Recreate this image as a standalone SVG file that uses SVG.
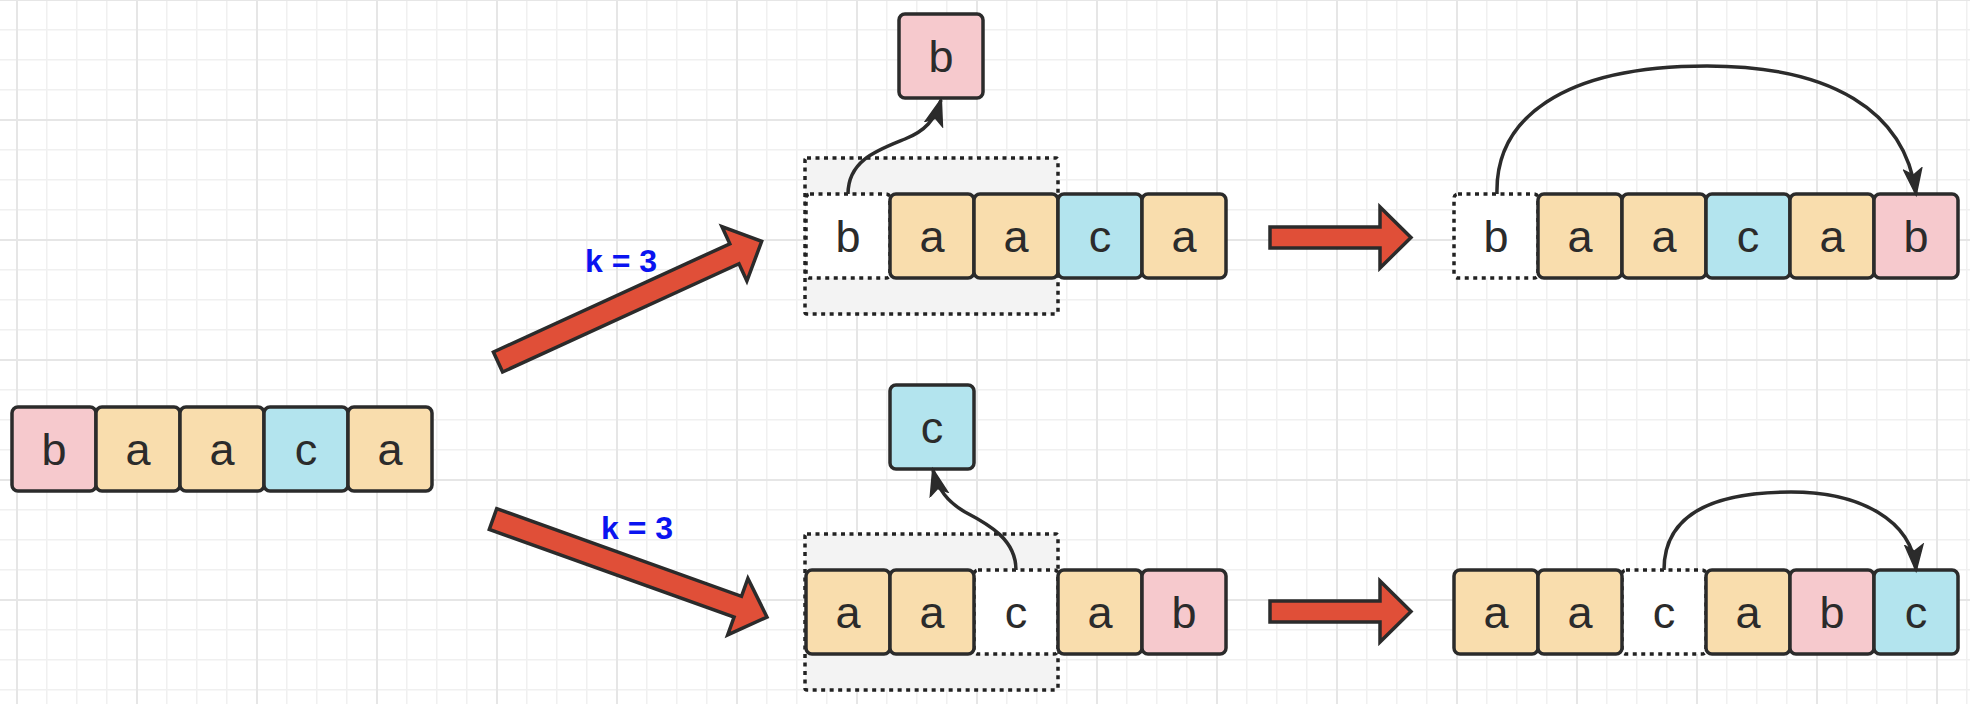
<svg xmlns="http://www.w3.org/2000/svg" width="1970" height="704" viewBox="0 0 1970 704">
<defs>
<pattern id="gmin" width="30" height="30" patternUnits="userSpaceOnUse" x="16" y="-1"><rect x="0" y="0" width="30" height="1.5" fill="#f0f0f0"/><rect x="0" y="0" width="1.5" height="30" fill="#f0f0f0"/></pattern>
<pattern id="gmaj" width="120" height="120" patternUnits="userSpaceOnUse" x="16" y="-1"><rect x="0" y="0" width="120" height="2" fill="#e6e6e6"/><rect x="0" y="0" width="2" height="120" fill="#e6e6e6"/></pattern>
<marker id="ah" markerUnits="userSpaceOnUse" markerWidth="30" markerHeight="22" viewBox="0 0 30 22" refX="26" refY="11" orient="auto"><path d="M1,2 L27,11 L1,20 L7,11 Z" fill="#2b2b2b" stroke="#2b2b2b" stroke-width="1.5" stroke-linejoin="miter"/></marker>
</defs>
<style>
.box{stroke:#2b2b2b;stroke-width:3.5}
.pk{fill:#F6C9CD}.pe{fill:#F9DDAD}.bl{fill:#B3E4EE}.wh{fill:#ffffff}
.dot{stroke:#222222;stroke-width:3.5;stroke-dasharray:4 4.5}
.cont{fill:#F3F3F3;stroke:#222222;stroke-width:3.5;stroke-dasharray:4 4.5}
.t{font-family:"Liberation Sans",Arial,sans-serif;font-size:45px;fill:#2b2b2b;text-anchor:middle}
.k{font-family:"Liberation Sans",Arial,sans-serif;font-size:32px;font-weight:bold;fill:#0a14f0;text-anchor:middle}
.blk{fill:#E04F38;stroke:#2b2b2b;stroke-width:3.5;stroke-linejoin:miter}
.cur{fill:none;stroke:#2b2b2b;stroke-width:3.5;marker-end:url(#ah)}
</style>
<rect width="1970" height="704" fill="#ffffff"/>
<rect width="1970" height="704" fill="url(#gmin)"/>
<rect width="1970" height="704" fill="url(#gmaj)"/>

<!-- containers -->
<g id="window-top"><rect class="cont" x="805" y="158" width="253" height="156" rx="2"/></g>
<g id="window-bottom"><rect class="cont" x="805" y="534" width="253" height="156" rx="2"/></g>

<!-- left row -->
<g id="left-row">
<rect class="box pk" x="12" y="407" width="84" height="84" rx="6"/><text class="t" x="54" y="465">b</text>
<rect class="box pe" x="96" y="407" width="84" height="84" rx="6"/><text class="t" x="138" y="465">a</text>
<rect class="box pe" x="180" y="407" width="84" height="84" rx="6"/><text class="t" x="222" y="465">a</text>
<rect class="box bl" x="264" y="407" width="84" height="84" rx="6"/><text class="t" x="306" y="465">c</text>
<rect class="box pe" x="348" y="407" width="84" height="84" rx="6"/><text class="t" x="390" y="465">a</text>
</g>

<!-- top middle -->
<g id="top-out"><rect class="box pk" x="899" y="14" width="84" height="84" rx="6"/><text class="t" x="941" y="72">b</text></g>
<g id="top-mid-row">
<rect class="dot wh" x="806" y="194" width="84" height="84" rx="4"/><text class="t" x="848" y="252">b</text>
<rect class="box pe" x="890" y="194" width="84" height="84" rx="6"/><text class="t" x="932" y="252">a</text>
<rect class="box pe" x="974" y="194" width="84" height="84" rx="6"/><text class="t" x="1016" y="252">a</text>
<rect class="box bl" x="1058" y="194" width="84" height="84" rx="6"/><text class="t" x="1100" y="252">c</text>
<rect class="box pe" x="1142" y="194" width="84" height="84" rx="6"/><text class="t" x="1184" y="252">a</text>
</g>

<!-- top right -->
<g id="top-right-row">
<rect class="dot wh" x="1454" y="194" width="84" height="84" rx="4"/><text class="t" x="1496" y="252">b</text>
<rect class="box pe" x="1538" y="194" width="84" height="84" rx="6"/><text class="t" x="1580" y="252">a</text>
<rect class="box pe" x="1622" y="194" width="84" height="84" rx="6"/><text class="t" x="1664" y="252">a</text>
<rect class="box bl" x="1706" y="194" width="84" height="84" rx="6"/><text class="t" x="1748" y="252">c</text>
<rect class="box pe" x="1790" y="194" width="84" height="84" rx="6"/><text class="t" x="1832" y="252">a</text>
<rect class="box pk" x="1874" y="194" width="84" height="84" rx="6"/><text class="t" x="1916" y="252">b</text>
</g>

<!-- bottom middle -->
<g id="bottom-out"><rect class="box bl" x="890" y="385" width="84" height="84" rx="6"/><text class="t" x="932" y="443">c</text></g>
<g id="bottom-mid-row">
<rect class="dot wh" x="974" y="570" width="84" height="84" rx="4"/><text class="t" x="1016" y="628">c</text>
<rect class="box pe" x="806" y="570" width="84" height="84" rx="6"/><text class="t" x="848" y="628">a</text>
<rect class="box pe" x="890" y="570" width="84" height="84" rx="6"/><text class="t" x="932" y="628">a</text>
<rect class="box pe" x="1058" y="570" width="84" height="84" rx="6"/><text class="t" x="1100" y="628">a</text>
<rect class="box pk" x="1142" y="570" width="84" height="84" rx="6"/><text class="t" x="1184" y="628">b</text>
</g>

<!-- bottom right -->
<g id="bottom-right-row">
<rect class="dot wh" x="1622" y="570" width="84" height="84" rx="4"/><text class="t" x="1664" y="628">c</text>
<rect class="box pe" x="1454" y="570" width="84" height="84" rx="6"/><text class="t" x="1496" y="628">a</text>
<rect class="box pe" x="1538" y="570" width="84" height="84" rx="6"/><text class="t" x="1580" y="628">a</text>
<rect class="box pe" x="1706" y="570" width="84" height="84" rx="6"/><text class="t" x="1748" y="628">a</text>
<rect class="box pk" x="1790" y="570" width="84" height="84" rx="6"/><text class="t" x="1832" y="628">b</text>
<rect class="box bl" x="1874" y="570" width="84" height="84" rx="6"/><text class="t" x="1916" y="628">c</text>
</g>

<!-- connectors -->
<g id="connectors">
<polygon class="blk" transform="translate(498,362) rotate(-24.6)" points="0,-11 260,-11 260,-30 290,0 260,30 260,11 0,11"/>
<polygon class="blk" transform="translate(493,519) rotate(19.7)" points="0,-11 260,-11 260,-30 291,0 260,30 260,11 0,11"/>
<polygon class="blk" points="1270,227 1380,227 1380,207 1411,237.5 1380,268 1380,248 1270,248"/>
<polygon class="blk" points="1270,601 1380,601 1380,581 1411,611.5 1380,642 1380,622 1270,622"/>
<path class="cur" d="M848,194 C848,160 878,150 905,139 C925,131 935,120 941,100"/>
<path class="cur" d="M1016,570 C1016,540 990,525 965,512 C948,502 938,490 933,470"/>
<path class="cur" d="M1497,194 C1495,120 1560,66 1707,66 C1830,66 1905,110 1916,194"/>
<path class="cur" d="M1664,570 C1664,505 1730,492 1791,492 C1860,492 1912,520 1916,570"/>
<text class="k" x="621" y="272">k = 3</text>
<text class="k" x="637" y="539">k = 3</text>
</g>
</svg>
